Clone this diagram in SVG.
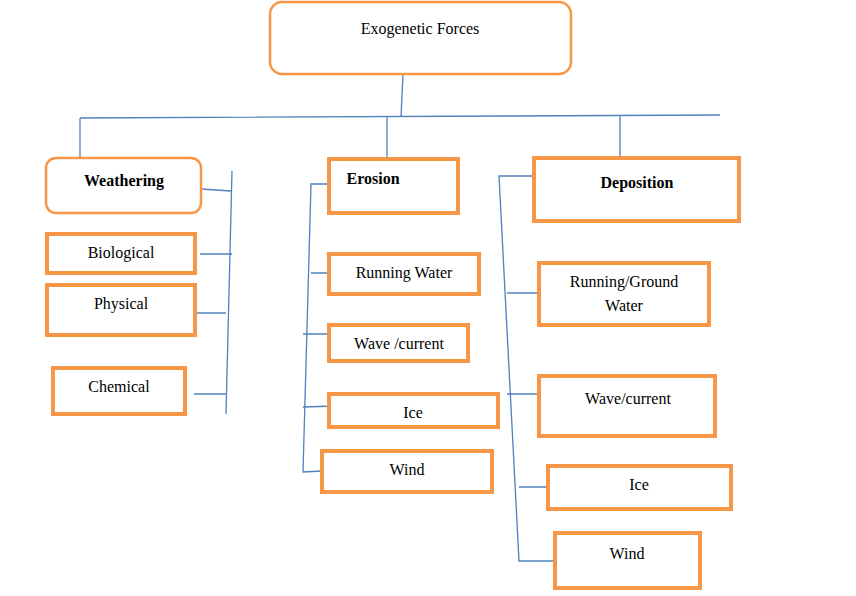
<svg xmlns="http://www.w3.org/2000/svg" width="856" height="596" viewBox="0 0 856 596">
<style>
.b{fill:#fff;stroke:#f79646;stroke-width:4}
.r{fill:#fff;stroke:#f79646;stroke-width:2.5}
.t{font-family:"Liberation Serif",serif;font-size:16px;fill:#000;text-anchor:middle}
.bd{font-weight:bold}
#c path{fill:none;stroke:#4f81bd;stroke-width:1.3}
</style>
<rect width="856" height="596" fill="#fff"/>
<g id="c">
<path d="M403 74L401 117M80 118L720 115M80 118V158M387 117V158M620 115V158"/>
<path d="M201 189L231 191M232 171L226 414M200 254H232M195 313H226M194 394H226"/>
<path d="M329 184H311L303 472L322 471M311 273H329M303 334H329M303 407L336 406"/>
<path d="M540 176H499L519 561H554M507 293H539M507 394H539M519 487H548"/>
</g>
<g id="exo"><rect x="270" y="2" width="301" height="72" rx="12" class="r"/><text x="420" y="34" class="t">Exogenetic Forces</text></g>
<g id="weathering"><rect x="46" y="158" width="155" height="55" rx="10" class="r"/><text x="124" y="186" class="t bd">Weathering</text></g>
<g id="biological"><rect x="47" y="234" width="148" height="39" class="b"/><text x="121" y="258" class="t">Biological</text></g>
<g id="physical"><rect x="47" y="285" width="148" height="50" class="b"/><text x="121" y="309" class="t">Physical</text></g>
<g id="chemical"><rect x="53" y="368" width="132" height="46" class="b"/><text x="119" y="392" class="t">Chemical</text></g>
<g id="erosion"><rect x="329" y="159" width="129" height="54" class="b"/><text x="373" y="184" class="t bd">Erosion</text></g>
<g id="e-water"><rect x="329" y="254" width="150" height="40" class="b"/><text x="404" y="278" class="t">Running Water</text></g>
<g id="e-wave"><rect x="329" y="325" width="139" height="36" class="b"/><text x="399" y="349" class="t">Wave /current</text></g>
<g id="e-ice"><rect x="329" y="394" width="169" height="33" class="b"/><text x="413" y="418" class="t">Ice</text></g>
<g id="e-wind"><rect x="322" y="451" width="170" height="41" class="b"/><text x="407" y="475" class="t">Wind</text></g>
<g id="deposition"><rect x="534" y="158" width="205" height="63" class="b"/><text x="637" y="188" class="t bd">Deposition</text></g>
<g id="d-water"><rect x="539" y="263" width="170" height="62" class="b"/><text x="624" y="287" class="t">Running/Ground</text><text x="624" y="311" class="t">Water</text></g>
<g id="d-wave"><rect x="539" y="376" width="176" height="60" class="b"/><text x="628" y="404" class="t">Wave/current</text></g>
<g id="d-ice"><rect x="548" y="466" width="183" height="43" class="b"/><text x="639" y="490" class="t">Ice</text></g>
<g id="d-wind"><rect x="555" y="533" width="145" height="55" class="b"/><text x="627" y="559" class="t">Wind</text></g>
</svg>
